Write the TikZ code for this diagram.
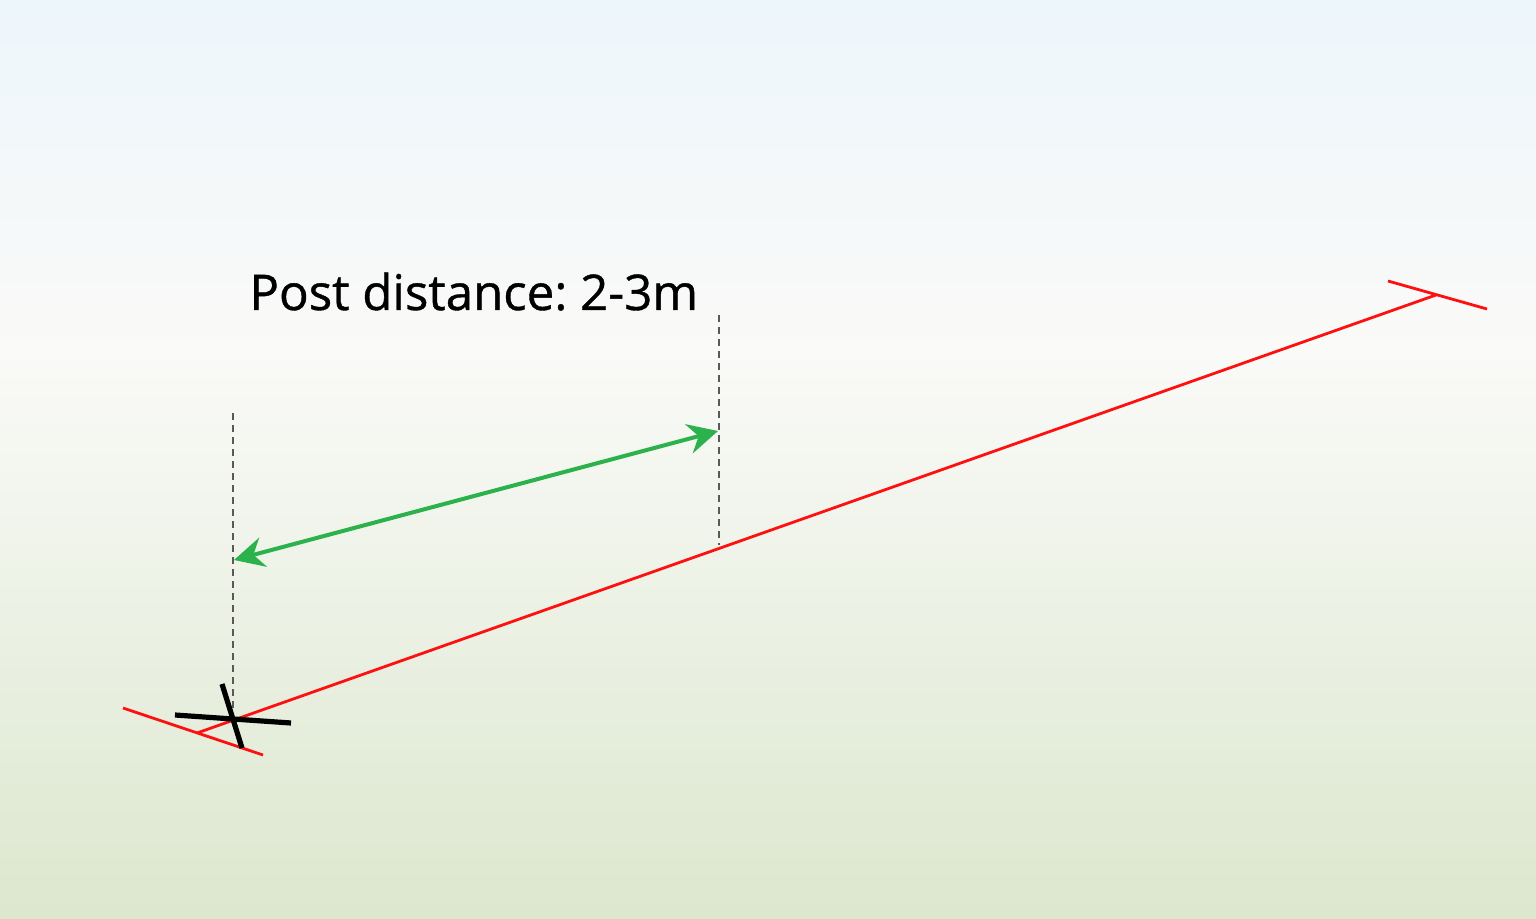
\documentclass[tikz,border=0pt]{standalone}
\usepackage{fontspec}
\setmainfont{Open Sans}[RawFeature={embolden=0.8}]
\usetikzlibrary{arrows.meta}
\definecolor{skyblue}{HTML}{EDF6FB}
\definecolor{haze}{HTML}{FAFAF8}
\definecolor{meadow}{HTML}{DCE7CE}
\definecolor{fencered}{HTML}{FF1010}
\definecolor{arrowgreen}{HTML}{2BB24C}
\frenchspacing
\begin{document}
\begin{tikzpicture}[x=0.5pt,y=-0.5pt,
  fence/.style={fencered,line width=1.4pt},
  guide/.style={black!65,line width=0.65pt,dash pattern=on 3.5pt off 2.5pt},
  marker/.style={black,line width=2.6pt},
  span/.style={arrowgreen,line width=2pt,{Stealth[length=15pt,width=15pt,inset=5pt]}-{Stealth[length=15pt,width=15pt,inset=5pt]}}]
% sky and grass
\shade[top color=skyblue,bottom color=haze] (0,0) rectangle (1536,350);
\shade[top color=haze,bottom color=meadow] (0,349) rectangle (1536,919);
\useasboundingbox (0,0) rectangle (1536,919);
% fence line
\coordinate (start) at (197,733);
\coordinate (post) at (233,718);
\coordinate (end) at (1436,295);
\draw[fence] (start) -- (end);
\coordinate (sa) at (123,708);
\coordinate (sb) at (263,755);
\draw[fence] (sa) -- (sb);
\coordinate (ea) at (1388,281);
\coordinate (eb) at (1487,309);
\draw[fence] (ea) -- (eb);
% guides
\coordinate (g1) at (233,413);
\coordinate (g2) at (719,315);
\coordinate (g2b) at (719,545);
\draw[guide] (g1) -- (post);
\draw[guide] (g2) -- (g2b);
% post mark
\coordinate (xa) at (175,715);
\coordinate (xb) at (291,723);
\coordinate (xc) at (222,684);
\coordinate (xd) at (242,748);
\draw[marker] (xa) -- (xb);
\draw[marker] (xc) -- (xd);
% distance
\coordinate (da) at (234,560);
\coordinate (db) at (718,431);
\draw[span] (da) -- (db);
\node[anchor=base west,inner sep=0pt,font=\fontsize{24.6}{28}\selectfont] (label) at (249,310) {Post distance: 2-3m};
\end{tikzpicture}
\end{document}
